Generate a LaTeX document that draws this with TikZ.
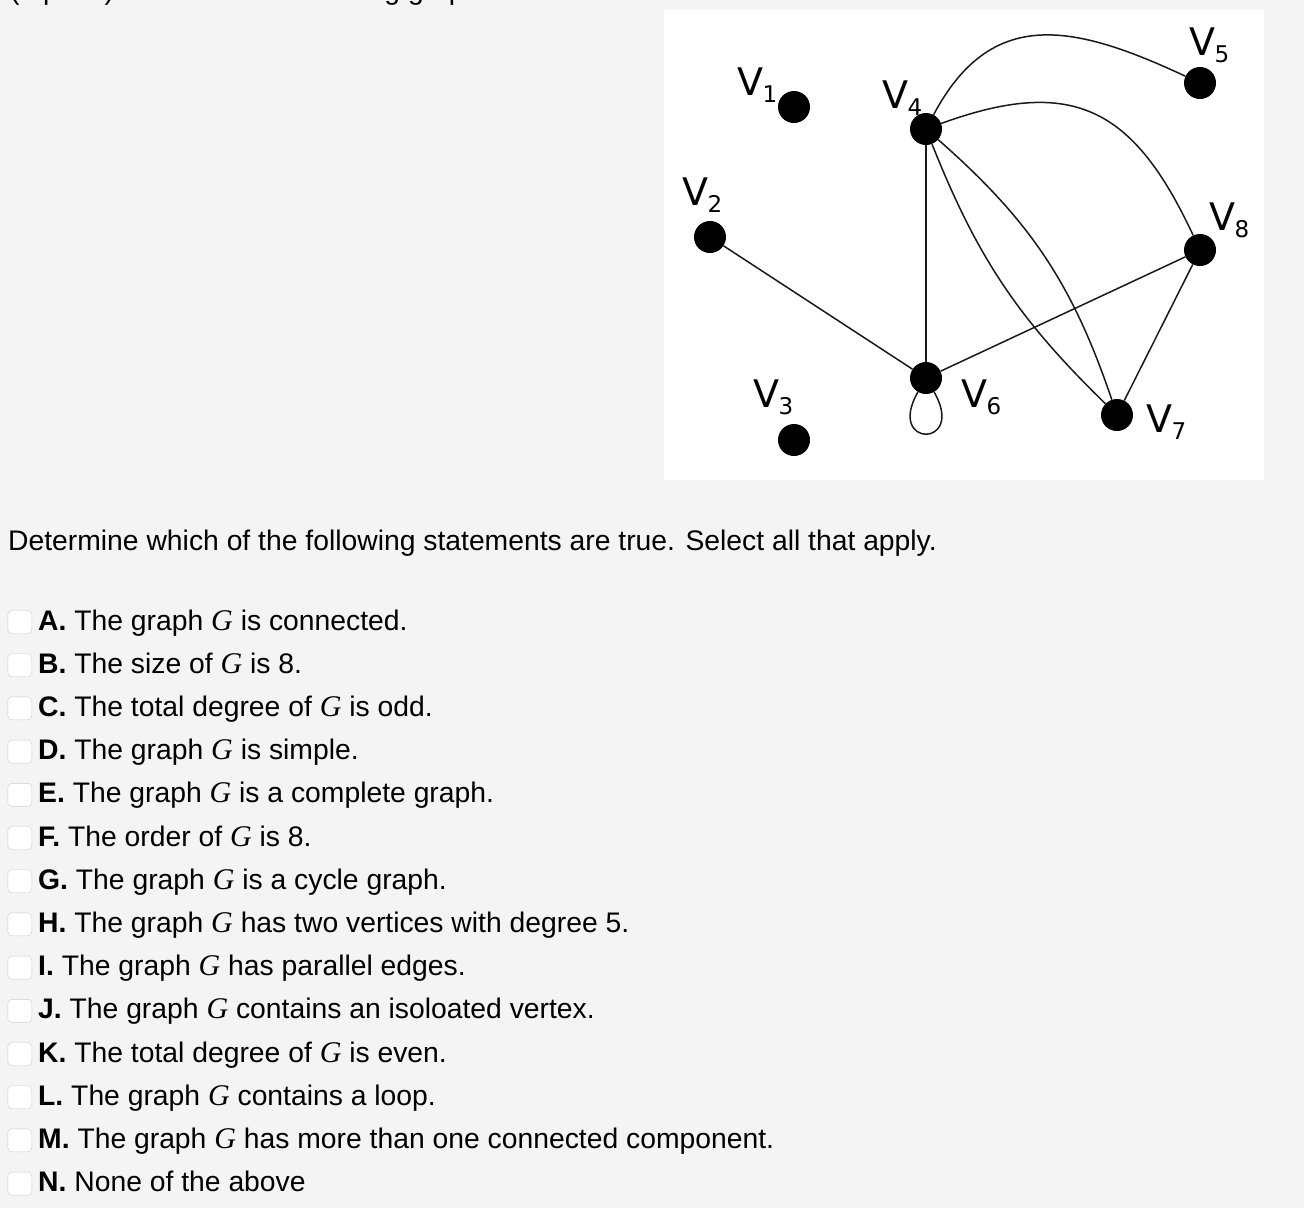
\documentclass[tikz,border=0pt]{standalone}
\usepackage{fontspec}
\setmainfont{Liberation Sans}
\newfontfamily\gfont{Liberation Serif}
\newfontfamily\vfont{DejaVu Sans}
\usetikzlibrary{positioning}
\definecolor{pagebg}{HTML}{F4F4F4}
\definecolor{boxline}{HTML}{CDCDCD}
\newcommand{\gG}{{\gfont\itshape\fontsize{30}{30}\selectfont G}}
\newcommand{\vtx}[1]{V\kern-0.5pt\raisebox{-7pt}{\fontsize{23}{23}\selectfont #1}}
\tikzset{
  dot/.style={circle,fill=black,inner sep=0pt,minimum size=32pt},
  vname/.style={font=\vfont\fontsize{38}{38}\selectfont,inner sep=0pt,anchor=base west},
  edge/.style={line width=1.5pt,draw=black!90},
  item/.style={font=\fontsize{28.3}{32}\selectfont,inner sep=0pt,text height=21pt,
    text depth=5pt,anchor=base west},
  tick/.style={draw=boxline,fill=white,rounded corners=4pt,minimum width=24pt,
    minimum height=23pt,inner sep=0pt}
}
\begin{document}
\begin{tikzpicture}[x=1pt,y=1pt,node distance=16.8pt]
  \clip (0,0) rectangle (1304,-1208);
  \fill[pagebg] (0,0) rectangle (1304,-1208);
  \fill[white] (664,-10) rectangle (1264,-480);
  % heading cut off at the top
  \node[item] (head) at (10,0.5) {(1 point) Consider the following graph};
  % vertices
  \node[dot] (v1) at (794,-107) {};
  \node[dot] (v2) at (710,-237) {};
  \node[dot] (v3) at (794,-440) {};
  \node[dot] (v4) at (926,-129) {};
  \node[dot] (v5) at (1200,-83) {};
  \node[dot] (v6) at (926,-378) {};
  \node[dot] (v7) at (1117,-415) {};
  \node[dot] (v8) at (1200,-250) {};
  \node[vname] (n1) at (737,-95) {\vtx{1}};
  \node[vname] (n2) at (682,-205) {\vtx{2}};
  \node[vname] (n3) at (753,-407) {\vtx{3}};
  \node[vname] (n4) at (882,-108) {\vtx{4}};
  \node[vname] (n5) at (1189,-55) {\vtx{5}};
  \node[vname] (n6) at (961,-407) {\vtx{6}};
  \node[vname] (n7) at (1146,-432) {\vtx{7}};
  \node[vname] (n8) at (1209,-230) {\vtx{8}};
  % edges
  \draw[edge] (v2) -- (v6);
  \draw[edge] (v4) -- (v6);
  \draw[edge] (v6) -- (v8);
  \draw[edge] (v8) -- (v7);
  \draw[edge] (v4) to[bend right=12] (v7);
  \draw[edge] (v4) to[bend left=15] (v7);
  \draw[edge] (v4) to[out=62,in=155,looseness=1.24] (v5);
  \draw[edge] (v4) to[out=20,in=115,looseness=1.3] (v8);
  \draw[edge] (v6) to[out=-120,in=-60,distance=65pt] (v6);
  % question
  \node[item] (intro) at (8,-550) {Determine which of the following statements are true. Select all that apply.};
  \node[item] (qa) at (38,-630) {\textbf{A.} The graph \gG{} is connected.};
  \node[item,below=of qa.south west,anchor=north west] (qb) {\textbf{B.} The size of \gG{} is 8.};
  \node[item,below=of qb.south west,anchor=north west] (qc) {\textbf{C.} The total degree of \gG{} is odd.};
  \node[item,below=of qc.south west,anchor=north west] (qd) {\textbf{D.} The graph \gG{} is simple.};
  \node[item,below=of qd.south west,anchor=north west] (qe) {\textbf{E.} The graph \gG{} is a complete graph.};
  \node[item,below=of qe.south west,anchor=north west] (qf) {\textbf{F.} The order of \gG{} is 8.};
  \node[item,below=of qf.south west,anchor=north west] (qg) {\textbf{G.} The graph \gG{} is a cycle graph.};
  \node[item,below=of qg.south west,anchor=north west] (qh) {\textbf{H.} The graph \gG{} has two vertices with degree 5.};
  \node[item,below=of qh.south west,anchor=north west] (qi) {\textbf{I.} The graph \gG{} has parallel edges.};
  \node[item,below=of qi.south west,anchor=north west] (qj) {\textbf{J.} The graph \gG{} contains an isoloated vertex.};
  \node[item,below=of qj.south west,anchor=north west] (qk) {\textbf{K.} The total degree of \gG{} is even.};
  \node[item,below=of qk.south west,anchor=north west] (ql) {\textbf{L.} The graph \gG{} contains a loop.};
  \node[item,below=of ql.south west,anchor=north west] (qm) {\textbf{M.} The graph \gG{} has more than one connected component.};
  \node[item,below=of qm.south west,anchor=north west] (qn) {\textbf{N.} None of the above};
  \foreach \q in {a,b,c,d,e,f,g,h,i,j,k,l,m,n}
    \node[tick,left=6pt of q\q] (c\q) {};
\end{tikzpicture}
\end{document}
